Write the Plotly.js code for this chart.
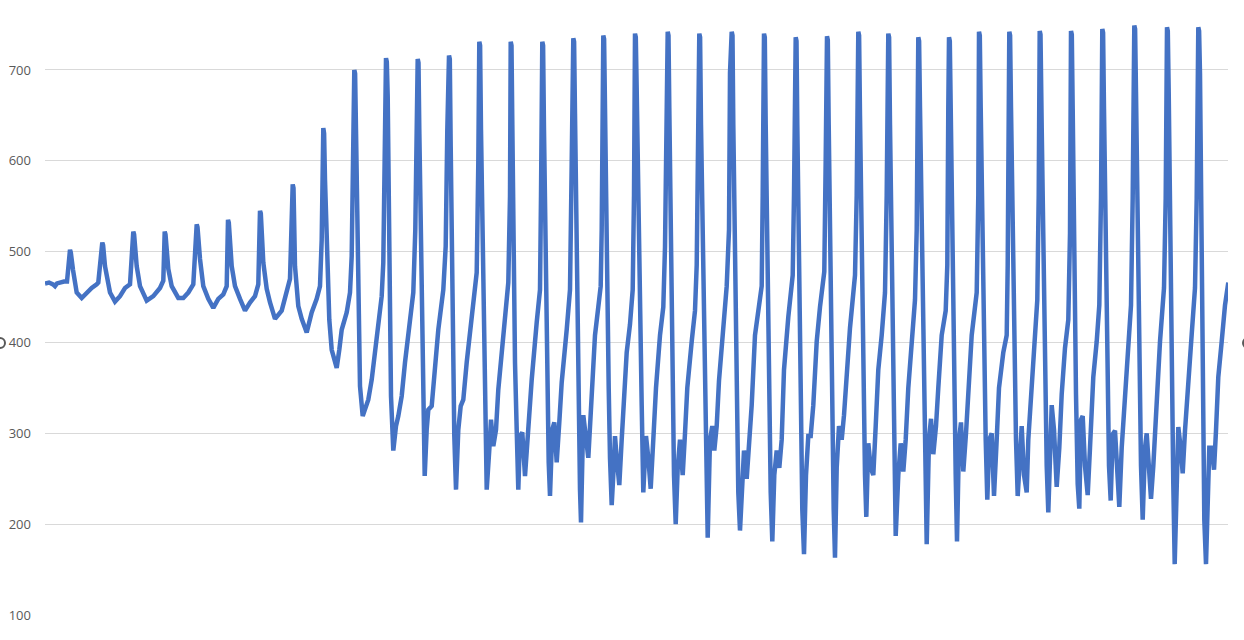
<!DOCTYPE html>
<html>
<head>
<meta charset="utf-8">
<script src="https://cdn.plot.ly/plotly-3.0.1.min.js"></script>
<style>
  html, body { margin: 0; padding: 0; background: #ffffff; }
  #chart { width: 1244px; height: 640px; }
</style>
</head>
<body>
<div id="chart"></div>
<script>
// Sample positions (horizontal) and readings
var sampleX = [
  45,49,53,55,57,60,64,67,
  70,70.8,73,76.7,81.7,86.7,91.7,96.7,98.3,
  102.3,103.1,105,110,115,120,125,130,
  133.3,134.1,136.7,140,146.7,153.3,160,163.3,
  164.7,165.5,168.3,171.7,178.3,183.3,188.3,193.3,
  196.7,197.5,200,203.3,208.3,213.3,218.3,223.3,226.7,
  228,228.8,231.7,235,240,245,250,255,258.3,
  260,260.8,263.3,266.7,270,275,281.7,286.7,290,
  292.7,293.5,295,298.3,301.7,306.7,311.7,316.7,320,321.7,
  323.3,324.1,325,326,327.3,329.3,331.7,336.7,339.3,341.7,346.7,350,351.7,353.3,
  354.3,355.1,356,357.3,358.3,360,362.7,366,368.3,371.7,375,378.3,381.7,383.3,385,
  386,386.8,387.7,389,390,391,393.3,396,398.3,401.7,405,410,413.3,415.3,416.7,
  417.7,418.5,419.3,420.7,422.3,423.3,424.7,426.7,428.3,431.7,435,438.3,443.3,445.7,447.3,
  449,449.8,450.7,452.3,453.3,454.3,456,458.3,460.7,463.3,466.7,471.7,476.7,478.3,
  479.3,480.1,481,482.7,484,485,486.7,489.3,491,493.3,496,498.3,503.3,508.3,510,
  510.7,511.5,512.2,513.3,515,516.7,518.3,520,522.3,525,527.7,531.7,536.7,540,541,
  542.3,543.1,544,545.7,547.3,548.7,550,552.3,554.3,556.7,559.3,561.7,566.7,570,571.7,
  573.3,574.1,575,576.7,578.3,580,581,
  583.3,588.3,590,592.7,595,598.3,600.7,601.7,602.7,
  603.3,604.1,605,606,607.3,608.7,610,611.7,613.3,615,616.7,619.3,621.7,623.3,626.7,630,632.7,634,
  635,635.8,636.7,638.3,640,641.7,643.3,646,648.3,650.7,653.3,656,660,663.3,665,666.7,
  667.7,668.5,669.3,670.7,672.3,674,675.7,677.7,680,682.7,685,687.3,691.7,695,696.7,698.3,
  699.3,700.1,701,702.7,704.3,706,707.7,710,712.3,714.3,716.7,719,723.3,726.7,729,730,
  731.7,732.5,733.3,735,
  736.7,738.3,740,742.3,744,746.7,749,751.7,755,758.3,761.7,762.7,
  764,764.8,765.7,767.3,769,770.7,772.3,774.3,776.7,779.3,781.7,784,788.3,792.7,794,
  795.7,796.5,797.3,799,800.7,802.3,804,806,808.3,810.7,813.3,816.7,820,824.3,825.7,
  827,827.8,828.7,830.3,832,833.7,835,836.7,839,841.7,844,846.7,850,855,856.7,
  858.3,859.1,860,861.7,863.3,865,866.3,868.3,870.7,873.3,875.7,878.3,881.7,885,886.7,
  888.3,889.1,
  890,891.7,893.3,894.3,895.7,898.3,900.7,903.3,905.7,908.3,911.7,915,916.7,
  918.3,919.1,920,921.7,923.3,925,926.7,929,931,933.3,936,938.3,941.7,945.7,947.3,948.3,
  949,949.8,950.7,952.3,954,955.7,957,959,961,963.3,966,968.3,971.7,976.7,978.3,
  979,979.8,980.7,982.3,984,985.7,987.3,989.3,991.7,994,996.7,999,1003.3,1006.7,1007.7,1008.7,
  1009.3,1010.1,1011,1012.7,1014.3,1016,1017.7,1019.3,1021.7,1024,1026.7,1028.3,1031.7,1035,1037.3,1038.7,
  1039.7,1040.5,
  1041.7,1043.3,1045,1046.7,1048.3,1050,1051.7,1054,1056.7,1059.3,1061.7,1065,1068.3,1070,
  1071,1071.8,1072.7,1074.3,1076,1077.7,1079.3,1081,1082.7,1085,1087.7,1090,1093.3,1096.7,1099.3,1101,
  1102.3,1103.1,1104,1105.7,1107.3,1109,1110.7,1112.7,1115,1117.3,1119.3,1121.7,1125,1128.3,1131,1132.7,
  1134.3,1135.1,1136,1137.7,1139.3,1141,1142.7,1145,1146.7,1149,1151,1153.3,1156,1160,1164,1165.7,
  1167,1167.8,1168.7,1170.3,1172,1173.3,1174.7,1176.7,1178.3,1180.7,1182.7,1185,1188.3,1191.7,1195,1196.7,
  1198.3,1199.1,1200,1201.7,1203.3,1204.3,1206,1207.7,1209.3,1211.7,1214,1216,1218.3,1221.7,1225,1228.3
];

var reading = [
  465,466,464,462,465,466,467,467,
  502,499,480,455,449,455,460,464,466,
  510,507,484,455,445,451,460,464,
  522,519,484,462,446,451,460,468,
  522,519,481,462,449,449,455,464,
  530,527,492,462,448,438,448,453,462,
  535,532,484,462,448,435,444,451,464,
  545,542,488,459,444,426,435,455,470,
  574,570,484,440,426,411,433,448,462,513,
  636,630,579,531,480,425,392,372,392,414,433,455,495,597,
  700,696,634,561,451,352,319,330,337,359,392,422,451,488,597,
  713,709,671,524,414,341,281,308,319,341,378,422,455,524,634,
  712,708,634,524,378,297,253,304,326,330,378,414,458,506,634,
  716,712,616,458,378,297,238,304,330,337,378,433,477,597,
  731,727,634,517,367,293,238,282,315,286,304,348,414,466,561,
  731,727,652,524,378,304,238,297,301,253,297,359,422,458,561,
  731,727,634,488,341,268,231,304,312,268,312,356,414,458,597,
  735,731,652,488,334,238,202,
  320,273,304,370,408,439,462,524,697,
  738,734,640,562,447,350,273,221,254,297,273,243,293,331,389,420,458,562,
  740,736,678,543,408,331,235,297,273,239,293,350,408,439,505,640,
  742,738,659,505,370,254,200,262,293,254,300,350,401,435,485,659,
  740,736,640,505,370,243,185,293,308,281,308,358,416,462,524,697,
  742,738,640,485,
  331,235,193,258,281,250,281,331,408,439,462,562,
  740,736,640,485,331,235,181,254,281,262,293,370,428,474,562,
  736,732,640,505,331,216,167,254,297,297,331,401,439,478,601,
  737,733,640,485,331,216,163,262,308,293,320,370,416,474,562,
  742,738,650,485,331,254,208,289,262,254,308,370,408,455,562,
  740,736,
  640,524,389,293,187,254,289,258,293,350,408,447,524,
  736,732,659,524,370,254,178,293,316,277,308,350,408,435,485,659,
  736,732,659,505,350,254,181,293,312,258,300,350,408,455,562,
  742,738,659,524,389,293,227,293,300,231,293,350,389,408,485,640,
  742,738,659,505,389,293,231,273,308,254,235,293,350,408,447,562,
  743,739,
  637,500,362,264,213,284,331,304,241,284,343,394,425,520,
  743,739,657,480,343,244,217,315,319,264,232,284,362,401,441,559,
  745,741,657,519,362,264,226,299,303,244,219,284,343,394,441,559,
  749,745,676,519,362,264,205,284,300,264,228,264,323,401,460,559,
  747,743,676,500,343,244,156,244,307,284,256,303,362,409,460,559,
  747,743,696,519,362,205,156,225,284,284,260,303,362,401,441,466
];

var yTicks = [100, 200, 300, 400, 500, 600, 700];

// ---- layout helpers (pixel -> paper) ----
var W = 1244, H = 640;
var M = { l: 45, r: 16, t: 20, b: 25 };
function px(xp) { return (xp - M.l) / (W - M.l - M.r); }
function py(yp) { return (H - M.b - yp) / (H - M.t - M.b); }
function ring(cx, cy, r) {
  return {
    type: 'circle', xref: 'paper', yref: 'paper',
    x0: px(cx - r), x1: px(cx + r), y0: py(cy + r), y1: py(cy - r),
    line: { color: '#595959', width: 2 }, fillcolor: 'rgba(0,0,0,0)'
  };
}

var trace = {
  x: sampleX,
  y: reading,
  type: 'scatter',
  mode: 'lines',
  line: { color: '#4472C4', width: 4.5, shape: 'linear' },
  hoverinfo: 'skip'
};

var layout = {
  width: W, height: H,
  margin: M,
  paper_bgcolor: '#ffffff',
  plot_bgcolor: '#ffffff',
  showlegend: false,
  xaxis: {
    range: [45, 1228],
    showgrid: false, zeroline: false, showline: false,
    showticklabels: false, ticks: '', fixedrange: true
  },
  yaxis: {
    range: [100, 755],
    tickvals: yTicks,
    ticktext: yTicks.map(String),
    showgrid: true, gridcolor: '#d9d9d9', gridwidth: 1,
    zeroline: false, showline: false, ticks: '',
    ticklabelstandoff: 13,
    tickfont: { family: 'Open Sans, Liberation Sans, sans-serif', size: 13, color: '#595959' },
    fixedrange: true
  },
  shapes: [ ring(0, 343, 5), ring(1248, 343, 5) ]
};

Plotly.newPlot('chart', [trace], layout, { displayModeBar: false, staticPlot: true });
</script>
</body>
</html>
